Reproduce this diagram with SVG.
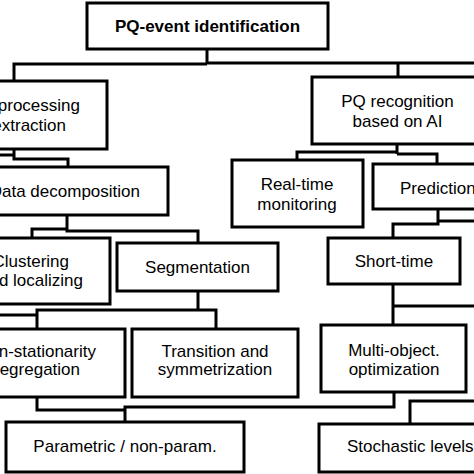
<svg xmlns="http://www.w3.org/2000/svg" width="474" height="474" viewBox="0 0 474 474">
<style>
.b{fill:#fff;stroke:#000;stroke-width:3}
.c{fill:none;stroke:#000;stroke-width:3}
text{font-family:"Liberation Sans",Arial,sans-serif;font-size:17px;fill:#000}
.m{text-anchor:middle}
.e{text-anchor:end}
.t{font-weight:bold}
</style>
<rect width="474" height="474" fill="#fff"/>
<g id="connectors">
<path class="c" d="M207,49 V64 M14,81 V64 H207 M207,63 H480 M398,63 V77"/>
<path class="c" d="M14,149 V159 H68 V167 M-5,155 H14"/>
<path class="c" d="M397,144 V154 M297,160 V152 H397 M397,154 H437 V164"/>
<path class="c" d="M67,215 V229 H32 V238 M67,228 V231 H198 V243"/>
<path class="c" d="M438,209 V224 H393 V238 M438,221 H480"/>
<path class="c" d="M198,291 V310 M37,329 V310 H216 V329 M-5,315 H37"/>
<path class="c" d="M393,284 V325 M393,306 H480"/>
<path class="c" d="M37,397 V410 H125 M125,422 V407 H394 V392 M410,424 V401 H480"/>
</g>
<g id="n-root"><rect class="b" x="87" y="3" width="241" height="46"/><text class="m t" x="207.5" y="32">PQ-event identification</text></g>
<g id="n-preproc"><rect class="b" x="-60" y="81" width="167" height="68"/><text class="e" x="80" y="111">processing</text><text class="e" x="66" y="131">extraction</text></g>
<g id="n-pqrec"><rect class="b" x="312" y="77" width="180" height="67"/><text class="m" x="397.5" y="107">PQ recognition</text><text class="m" x="397.5" y="127">based on AI</text></g>
<g id="n-datadec"><rect class="b" x="-40" y="167" width="208" height="48"/><text class="e" x="140" y="197">Data decomposition</text></g>
<g id="n-realtime"><rect class="b" x="232" y="160" width="131" height="67"/><text class="m" x="297" y="190">Real-time</text><text class="m" x="297" y="210">monitoring</text></g>
<g id="n-prediction"><rect class="b" x="373" y="164" width="120" height="45"/><text x="400" y="194">Prediction</text></g>
<g id="n-cluster"><rect class="b" x="-60" y="238" width="170" height="66"/><text class="e" x="69" y="267">Clustering</text><text class="e" x="83" y="286">d localizing</text></g>
<g id="n-segment"><rect class="b" x="117" y="243" width="161" height="48"/><text class="m" x="197.5" y="273">Segmentation</text></g>
<g id="n-short"><rect class="b" x="328" y="238" width="132" height="46"/><text class="m" x="394" y="267">Short-time</text></g>
<g id="n-nonstat"><rect class="b" x="-60" y="329" width="185" height="68"/><text class="e" x="96" y="357">n-stationarity</text><text class="e" x="80" y="375">egregation</text></g>
<g id="n-transition"><rect class="b" x="132" y="329" width="166" height="68"/><text class="m" x="215" y="357">Transition and</text><text class="m" x="215" y="375">symmetrization</text></g>
<g id="n-multi"><rect class="b" x="321" y="325" width="145" height="67"/><text class="m" x="394" y="356">Multi-object.</text><text class="m" x="394" y="375">optimization</text></g>
<g id="n-param"><rect class="b" x="6" y="422" width="238" height="50"/><text class="m" x="125" y="452">Parametric / non-param.</text></g>
<g id="n-stoch"><rect class="b" x="319" y="424" width="180" height="48"/><text x="347" y="452">Stochastic levels</text></g>
</svg>
